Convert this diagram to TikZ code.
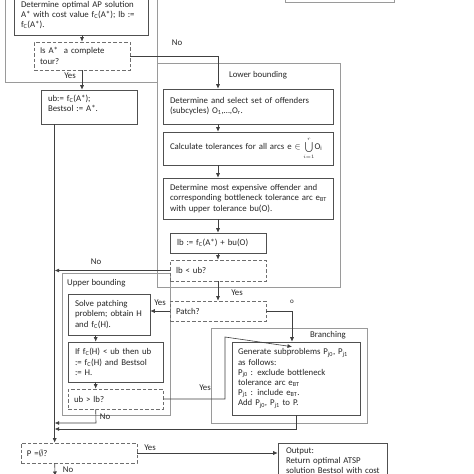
\documentclass[tikz,border=0pt]{standalone}
\usepackage{fontspec}
\setmainfont{Carlito}
\usetikzlibrary{arrows.meta}
\definecolor{framec}{HTML}{9A9A9A}
\definecolor{boxc}{HTML}{505050}
\definecolor{dashc}{HTML}{6E6E6E}
\definecolor{linec}{HTML}{404040}
\newcommand{\sbs}[1]{\textsubscript{#1}}
\begin{document}
\begin{tikzpicture}[x=1pt,y=-1pt,
  every node/.style={font=\fontsize{8.8}{10.2}\selectfont, text=black!85},
  box/.style={draw=boxc, line width=0.6pt, align=left, inner xsep=7pt, inner ysep=2pt},
  qbox/.style={draw=dashc, line width=0.7pt, dash pattern=on 3.5pt off 2pt, align=left, inner xsep=6pt, inner ysep=2pt},
  frame/.style={draw=framec, line width=0.6pt},
  arr/.style={draw=linec, line width=0.6pt, -{Latex[length=4.5pt,width=4pt]}},
  lbl/.style={inner sep=1pt}
]
\useasboundingbox (0,0) rectangle (474,474);
\clip (0,0) rectangle (474,474);
\fill[white] (0,0) rectangle (474,474);

% frames
\draw[frame] (5,-5) rectangle (157,82);
\draw[frame] (157,63) rectangle (340,287);
\draw[frame] (62,273) rectangle (170,415);
\draw[frame] (211,328) rectangle (367,423);
\draw[frame, fill=white] (285,-5) rectangle (394,2);
\node[lbl] (lowlbl) at (258,75) {Lower bounding};
\node[lbl, anchor=west] (uplbl) at (66,283) {Upper bounding};
\node[lbl] (brlbl) at (328,335) {Branching};

% boxes
\node[box, minimum width=134pt, minimum height=40pt, text width=120pt] (box1) at (81,15)
  {Determine optimal AP solution\\ A* with cost value f\sbs{C}(A*); lb :=\\ f\sbs{C}(A*).};
\node[qbox, minimum width=96pt, minimum height=28pt, text width=84pt] (isA) at (82,56)
  {Is A*~ a complete\\ tour?};
\node[box, minimum width=96pt, minimum height=34pt, text width=82pt] (ubbox) at (89,107)
  {ub:= f\sbs{C}(A*);\\ Bestsol := A*.\par\kern8pt};
\node[box, minimum width=170pt, minimum height=35pt, text width=156pt] (boxA) at (248,106.5)
  {Determine and select set of offenders\\ (subcycles) O\sbs{1},\ldots,O\sbs{r}.};
\node[box, minimum width=170pt, minimum height=33pt, text width=156pt] (boxB) at (248,148.5)
  {Calculate tolerances for all arcs e $\in\mathop{\textstyle\bigcup}\limits_{\scriptscriptstyle i=1}^{\scriptscriptstyle r}$O\sbs{i}};
\node[box, minimum width=170pt, minimum height=41pt, text width=156pt] (boxC) at (248,198.5)
  {Determine most expensive offender and\\ \mbox{corresponding bottleneck tolerance arc e\sbs{BT}}\\ with upper tolerance bu(O).};
\node[box, minimum width=96pt, minimum height=20pt, text width=82pt] (boxD) at (218,243)
  {lb := f\sbs{C}(A*) + bu(O)};
\node[qbox, minimum width=96pt, minimum height=21pt, text width=84pt] (lbub) at (218,270.5)
  {lb < ub?};
\node[qbox, minimum width=96pt, minimum height=20pt, text width=84pt] (patch) at (218,311)
  {Patch?};
\node[box, minimum width=82pt, minimum height=41pt, text width=68pt] (solve) at (109,314.5)
  {Solve patching\\ problem; obtain H\\ and f\sbs{C}(H).};
\node[box, minimum width=95pt, minimum height=40pt, text width=81pt] (ifbox) at (115.5,362)
  {If f\sbs{C}(H) < ub then ub\\ := f\sbs{C}(H) and Bestsol\\ := H.};
\node[qbox, minimum width=95pt, minimum height=20pt, text width=83pt] (ubgt) at (115.5,399)
  {ub > lb?};
\node[box, minimum width=128pt, minimum height=73pt, text width=116pt, inner xsep=6pt] (gen) at (296,378.5)
  {Generate subproblems P\sbs{j0}, P\sbs{j1}\\ as follows:\\ P\sbs{j0} : exclude bottleneck\\ tolerance arc e\sbs{BT}\\ P\sbs{j1} : include e\sbs{BT}.\\ Add P\sbs{j0}, P\sbs{j1} to P.};
\node[qbox, minimum width=116pt, minimum height=20pt, text width=104pt] (pempty) at (79,453)
  {P =$\emptyset$?};
\node[box, anchor=north, minimum width=109pt, text width=93pt, inner xsep=8pt, inner ysep=4pt] (output) at (332.5,443)
  {Output:\\ Return optimal ATSP\\ \mbox{solution Bestsol with cost}\par\kern20pt};

% connectors
\coordinate (tkTop) at ([xshift=14pt]ubbox.south west);
\coordinate (ax) at ([xshift=28pt]solve.south west);
\coordinate (J) at ([xshift=-4pt]gen.north);

\draw[arr] (box1.south -| isA.north) -- (isA.north);
\draw[arr] (isA.south) -- (isA.south |- ubbox.north);
\node[lbl] (yes1) at (70,76) {Yes};
\draw[arr] (isA.east) -| (boxD.north |- boxA.north);
\node[lbl] (no1) at (177,43) {No};
\draw[arr] (boxA.south -| boxD) -- (boxB.north -| boxD);
\draw[arr] (boxB.south -| boxD) -- (boxC.north -| boxD);
\draw[arr] (boxC.south -| boxD) -- (boxD.north);
\draw[arr] (boxD.south) -- (lbub.north);
\draw[arr] (tkTop) -- (tkTop |- pempty.north);
\draw[arr] (lbub.west) -- (lbub.west -| tkTop);
\node[lbl] (no2) at (96,262) {No};
\draw[arr] (lbub.south) -- (patch.north);
\node[lbl] (yes2) at (237,293) {Yes};
\draw[arr] (patch.west) -- (patch.west -| solve.east);
\node[lbl] (yes3) at (160,303) {Yes};
\draw[arr] (patch.east) -| (J);
\node[lbl, font=\fontsize{7}{8}\selectfont] (o1) at (292,302) {o};
\draw[arr] (ax) -- (ax |- ifbox.north);
\draw[arr] (ax |- ifbox.south) -- (ax |- ubgt.north);
\draw[arr] (ax |- ubgt.south) -- (96,423) -- (tkTop |- 0,423);
\node[lbl] (no3) at (105,417) {No};
\draw[arr] (ubgt.east) -- (225,399) -- (225,337) -- ([yshift=-5pt]J);
\node[lbl] (yes4) at (205,388) {Yes};
\draw[arr] (gen.south) -- (296,429) -- (tkTop |- 0,429);
\draw[arr] (pempty.east) -- (pempty.east -| output.west);
\node[lbl] (yes5) at (150,448) {Yes};
\draw[arr] (pempty.south -| tkTop) -- (55,476);
\node[lbl] (no4) at (68,470) {No};
\end{tikzpicture}
\end{document}
